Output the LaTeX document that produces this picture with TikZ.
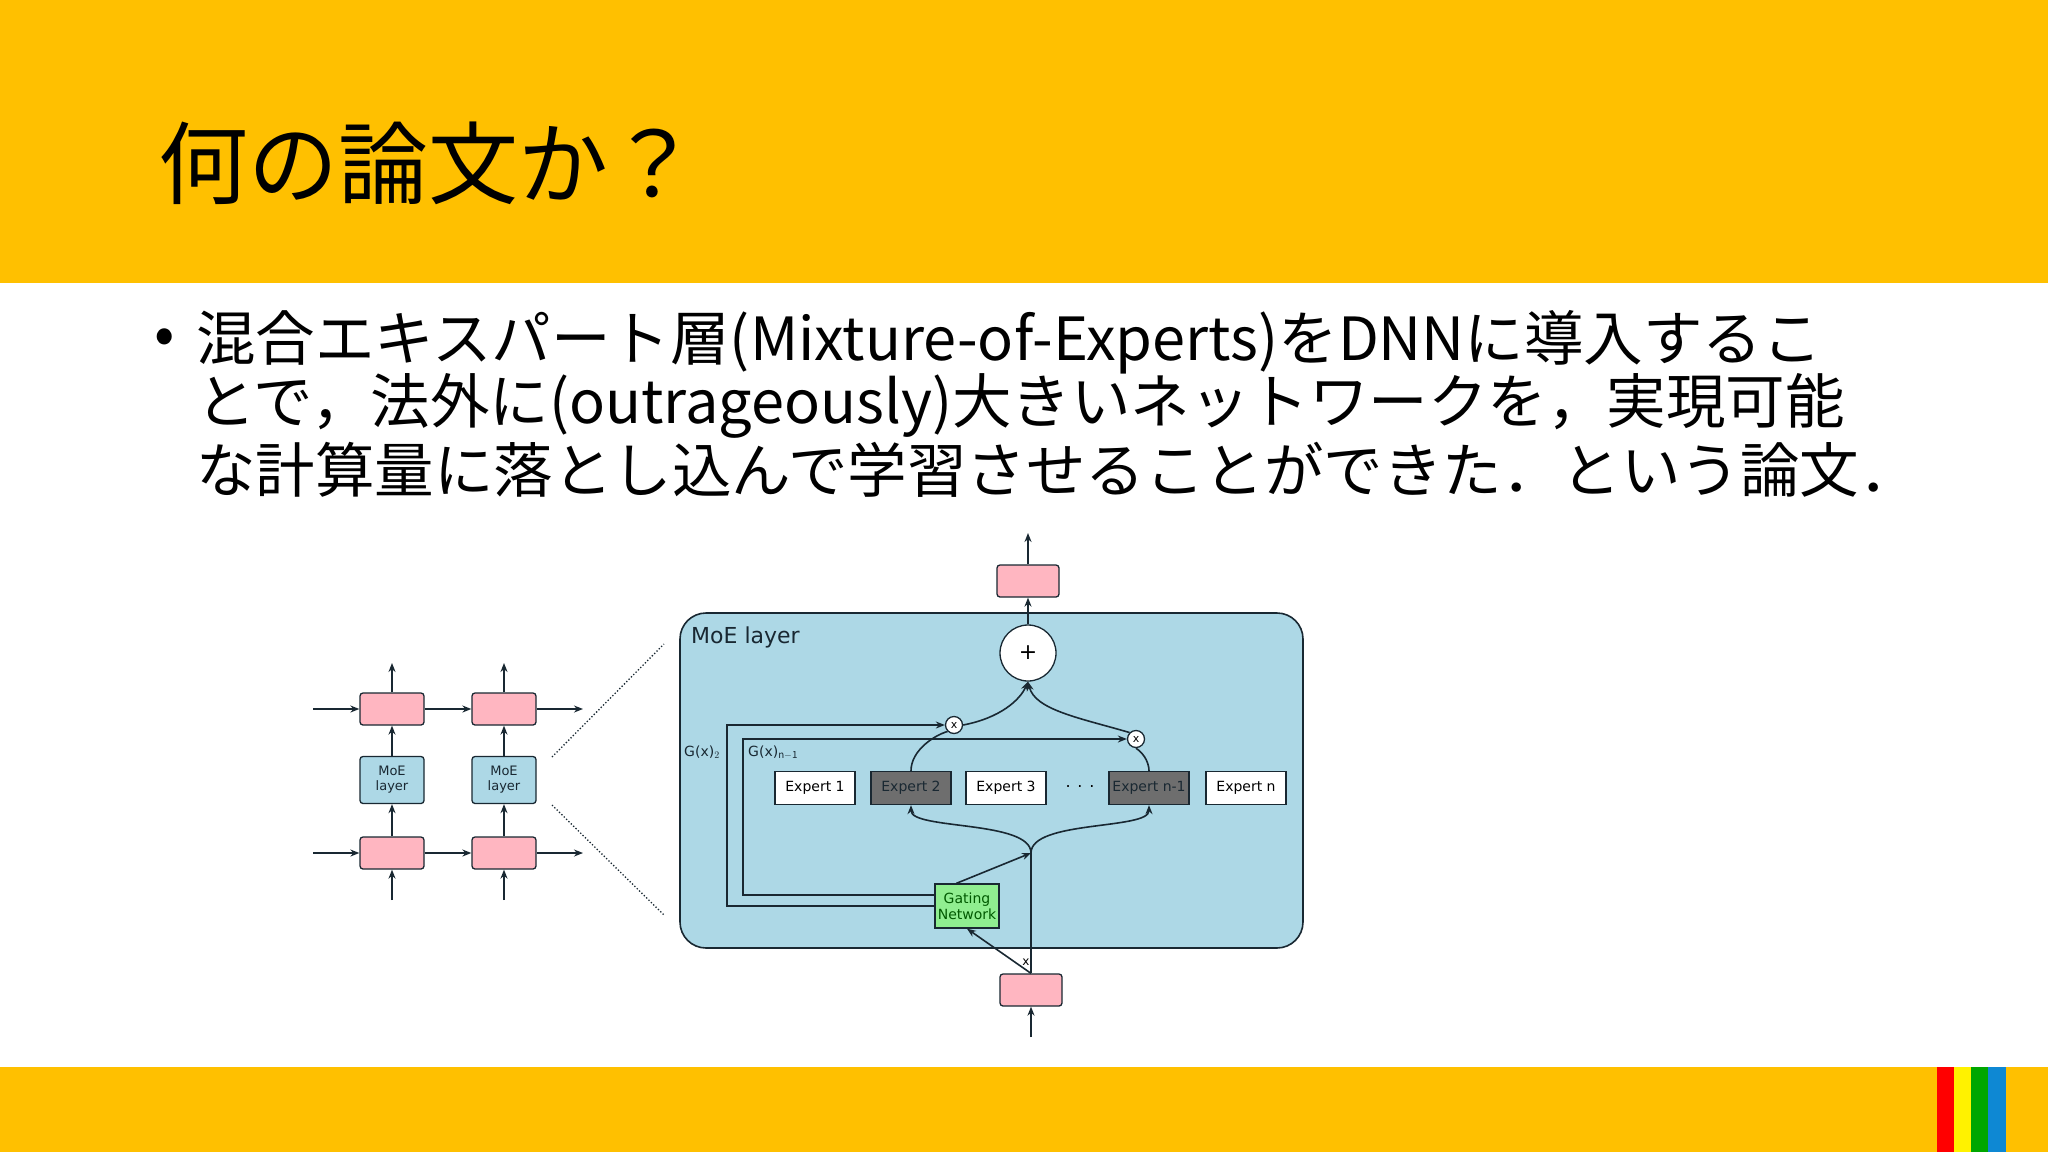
\documentclass[tikz,border=0pt]{standalone}
\usepackage{fontspec}
\setmainfont{Noto Sans CJK JP}
\newfontfamily\dv{DejaVu Sans}
\usetikzlibrary{arrows.meta}
\definecolor{slidey}{RGB}{255,192,0}
\definecolor{pinkc}{RGB}{255,182,193}
\definecolor{moeb}{RGB}{173,216,230}
\definecolor{gatec}{RGB}{144,238,144}
\definecolor{darkx}{RGB}{110,110,110}
\definecolor{edge}{RGB}{25,40,50}
\begin{document}
\begin{tikzpicture}[x=1pt,y=-1pt,
  ar/.style={-{Stealth[length=9pt,width=7pt]},line width=1.6pt,edge},
  ln/.style={line width=1.6pt,edge},
  pinkbox/.style={draw=edge,line width=1.3pt,fill=pinkc,rounded corners=3pt,minimum width=64pt,minimum height=32pt,inner sep=0pt},
  pinkbig/.style={pinkbox,minimum width=62pt,minimum height=32pt},
  moesmall/.style={draw=edge,line width=1.3pt,fill=moeb,rounded corners=3pt,minimum width=64pt,minimum height=47pt,inner sep=0pt,align=center,font=\dv\fontsize{13}{15}\selectfont,text=edge},
  expw/.style={draw=edge,line width=1.3pt,fill=white,minimum width=80pt,minimum height=33pt,inner sep=0pt,font=\dv\fontsize{14}{15}\selectfont},
  expd/.style={expw,fill=darkx,text=edge},
  mulc/.style={circle,draw=edge,line width=1.3pt,fill=white,minimum size=17pt,inner sep=0pt,font=\dv\fontsize{11}{12}\selectfont},
  line/.style={anchor=west,inner sep=0pt,font=\fontsize{59.5}{64}\selectfont}
]
\useasboundingbox (0,0) rectangle (2048,1152);
\fill[white] (0,0) rectangle (2048,1152);
\fill[slidey] (0,0) rectangle (2048,283);
\fill[slidey] (0,1067) rectangle (2048,1152);
\fill[red] (1937,1067) rectangle (1954,1152);
\fill[yellow] (1954,1067) rectangle (1971,1152);
\fill[green!65!black] (1971,1067) rectangle (1988,1152);
\fill[cyan!70!blue] (1988,1067) rectangle (2006,1152);
\node[anchor=west,inner sep=0pt,font=\fontsize{90}{96}\selectfont,text=black] (title) at (158,163) {何の論文か？};
\node[anchor=west,inner sep=0pt,font=\fontsize{60}{64}\selectfont] (bul) at (154,342) {•};
\node[line] (l1) at (196,342) {混合エキスパート層(Mixture-of-Experts)をDNNに導入するこ};
\node[line] (l2) at (196,406) {とで，法外に(outrageously)大きいネットワークを，実現可能};
\node[line] (l3) at (196,470) {な計算量に落とし込んで学習させることができた．という論文．};
% left diagram
\foreach \c/\x in {a/392,b/504}{
  \node[pinkbox] (t\c) at (\x,709) {};
  \node[moesmall] (m\c) at (\x,780) {MoE\\layer};
  \node[pinkbox] (b\c) at (\x,853) {};
  \coordinate (tu\c) at (\x,663);
  \coordinate (bd\c) at (\x,900);
  \draw[ar] (t\c) -- (tu\c);
  \draw[ar] (m\c) -- (t\c);
  \draw[ar] (b\c) -- (m\c);
  \draw[ar] (bd\c) -- (b\c);
}
\coordinate (lin1) at (313,709); \coordinate (lout1) at (583,709);
\coordinate (lin2) at (313,853); \coordinate (lout2) at (583,853);
\draw[ar] (lin1) -- (ta); \draw[ar] (ta) -- (tb); \draw[ar] (tb) -- (lout1);
\draw[ar] (lin2) -- (ba); \draw[ar] (ba) -- (bb); \draw[ar] (bb) -- (lout2);
\coordinate (d1a) at (552,757); \coordinate (d1b) at (664,644);
\coordinate (d2a) at (552,805); \coordinate (d2b) at (664,915);
\draw[line width=1.3pt,dotted,edge] (d1a) -- (d1b);
\draw[line width=1.3pt,dotted,edge] (d2a) -- (d2b);
% MoE layer
\draw[edge,line width=1.6pt,fill=moeb,rounded corners=26pt] (680,613) rectangle (1303,948);
\node[anchor=west,inner sep=0pt,font=\dv\fontsize{22}{24}\selectfont,text=edge] (moelab) at (691,637) {MoE layer};
\node[pinkbig] (top) at (1028,581) {};
\coordinate (topu) at (1028,533);
\node[circle,draw=edge,line width=1.3pt,fill=white,minimum size=56pt,inner sep=0pt,font=\dv\fontsize{22}{24}\selectfont] (plus) at (1028,653) {+};
\node[pinkbig] (bot) at (1031,990) {};
\coordinate (botd) at (1031,1037);
\node[expw] (e1) at (815,788) {Expert 1};
\node[expd] (e2) at (911,788) {Expert 2};
\node[expw] (e3) at (1006,788) {Expert 3};
\node[font=\dv\fontsize{16}{16}\selectfont] (dots) at (1080,786) {. . .};
\node[expd] (en1) at (1149,788) {Expert n-1};
\node[expw] (en) at (1246,788) {Expert n};
\node[draw=edge,line width=1.3pt,fill=gatec,minimum width=64pt,minimum height=44pt,inner sep=0pt,align=center,font=\dv\fontsize{14}{16}\selectfont,text=green!35!black] (gate) at (967,906) {Gating\\Network};
\node[mulc] (x1) at (954,725) {x};
\node[mulc] (x2) at (1136,739) {x};
\coordinate (split) at (1031,853);
\draw[ar] (plus) -- (top);
\draw[ar] (top) -- (topu);
\draw[ar] (botd) -- (bot);
\draw[ln] (bot.north) -- (split);
\draw[ar] (split) .. controls (1031,820) and (911,830) .. (e2.south);
\draw[ar] (split) .. controls (1031,820) and (1149,830) .. (en1.south);
\draw[ar] (gate.north west) ++(22,0) -- (split);
\draw[ar] (bot.north) -- (gate.south);
\node[font=\dv\fontsize{12}{12}\selectfont,inner sep=0pt] (xlab) at (1026,962) {x};
\draw[ln] (e2.north) .. controls (911,750) and (935,735) .. (x1.south west);
\draw[ar] (x1.east) .. controls (1000,718) and (1020,700) .. (plus.south);
\draw[ln] (en1.north) .. controls (1149,765) and (1146,755) .. (x2.south);
\draw[ar] (x2.north west) .. controls (1080,718) and (1035,710) .. (plus.south);
\coordinate (g1a) at (727,906); \coordinate (g1b) at (727,725);
\coordinate (g2a) at (743,895); \coordinate (g2b) at (743,739);
\draw[ar] (gate.west |- g1a) -- (g1a) -- (g1b) -- (x1.west);
\draw[ar] (gate.west |- g2a) -- (g2a) -- (g2b) -- (x2.west);
\node[anchor=west,inner sep=0pt,font=\dv\fontsize{14}{15}\selectfont,text=edge] (gl1) at (684,752) {G(x)$_2$};
\node[anchor=west,inner sep=0pt,font=\dv\fontsize{14}{15}\selectfont,text=edge] (gl2) at (748,753) {G(x)$_{\mathrm{n-1}}$};
\end{tikzpicture}
\end{document}
